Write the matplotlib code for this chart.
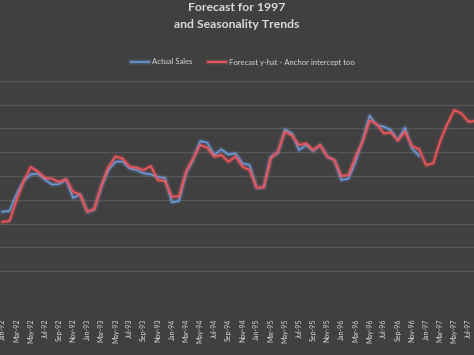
import matplotlib
matplotlib.use('Agg')
import matplotlib.pyplot as plt
import matplotlib.patheffects as pe

# monthly values (Jan-92 onwards)
actual_sales = [
    35.0, 35.3, 42.4, 47.9, 50.7, 51.0, 48.5, 46.4, 46.6, 48.5, 40.8, 42.2,
    35.0, 35.9, 45.4, 52.5, 56.0, 56.1, 53.2, 52.5, 51.1, 50.7, 49.6, 49.2,
    38.9, 39.5, 51.3, 56.7, 64.7, 64.0, 58.8, 61.2, 59.0, 59.5, 55.3, 54.6,
    45.0, 45.2, 58.0, 59.7, 69.5, 67.9, 60.9, 63.0, 60.5, 63.0, 58.1, 56.7,
    48.3, 48.9, 55.9, 65.1, 75.3, 71.4, 70.7, 69.3, 65.1, 70.3, 61.6, 58.5,
]
forecast = [
    30.7, 31.1, 39.9, 47.9, 53.8, 51.9, 49.2, 48.9, 47.5, 48.7, 43.4, 42.2,
    35.0, 36.1, 46.0, 53.8, 58.2, 57.4, 53.9, 53.5, 52.5, 54.2, 48.3, 47.9,
    41.3, 41.4, 51.8, 57.4, 63.0, 61.9, 58.1, 58.8, 56.0, 58.1, 53.9, 52.5,
    45.1, 45.3, 57.4, 60.1, 68.6, 67.0, 63.0, 63.7, 60.9, 63.0, 58.1, 56.7,
    50.0, 50.4, 58.1, 64.4, 73.3, 71.8, 67.9, 68.3, 64.9, 68.6, 62.6, 61.3,
    54.6, 55.3, 64.7, 71.8, 77.7, 76.3, 72.8, 73.1,
]
tick_labels = [
    'Jan-92', 'Mar-92', 'May-92', 'Jul-92', 'Sep-92', 'Nov-92',
    'Jan-93', 'Mar-93', 'May-93', 'Jul-93', 'Sep-93', 'Nov-93',
    'Jan-94', 'Mar-94', 'May-94', 'Jul-94', 'Sep-94', 'Nov-94',
    'Jan-95', 'Mar-95', 'May-95', 'Jul-95', 'Sep-95', 'Nov-95',
    'Jan-96', 'Mar-96', 'May-96', 'Jul-96', 'Sep-96', 'Nov-96',
    'Jan-97', 'Mar-97', 'May-97', 'Jul-97',
]

BG = '#404040'
TXT = '#d9d9d9'
BLUE = '#6a9ad9'
RED = '#e8555b'

plt.rcParams['font.family'] = ['Lato', 'DejaVu Sans']

fig = plt.figure(figsize=(4.74, 3.55), dpi=100, facecolor=BG)
ax = fig.add_axes([0, 1 - 295 / 355, 1, (295 - 80.8) / 355])
ax.set_facecolor(BG)


def glow(color):
    return [pe.Stroke(linewidth=4.5, foreground=color, alpha=0.1),
            pe.Stroke(linewidth=3, foreground=color, alpha=0.18),
            pe.Normal()]


ax.plot(range(len(actual_sales)), actual_sales, color=BLUE, lw=1.2,
        label='Actual Sales', path_effects=glow(BLUE), zorder=3)
ax.plot(range(len(forecast)), forecast, color=RED, lw=1.4,
        label='Forecast y-hat - Anchor intercept too',
        path_effects=glow(RED), zorder=4)

ax.set_ylim(0, 90)
ax.set_xlim(-2.5 / 7.06, (474 - 2.5) / 7.06)
for v in range(10, 100, 10):
    ax.axhline(v, color='#585858', lw=0.9, zorder=1)
ax.set_yticks([])
ax.set_xticks(range(0, 67, 2))
ax.set_xticklabels(tick_labels, rotation=90, fontsize=5, color=TXT)
ax.tick_params(axis='x', length=0, pad=17)
for s in ax.spines.values():
    s.set_visible(False)

fig.text(0.5, 1 - 7.5 / 355, 'Forecast for 1997', ha='center', va='center',
         fontsize=8.8, fontweight='bold', color=TXT)
fig.text(0.5, 1 - 24.5 / 355, 'and Seasonality Trends', ha='center',
         va='center', fontsize=8.8, fontweight='bold', color=TXT)

leg = fig.legend(loc='center', bbox_to_anchor=(0.512, 1 - 62 / 355), ncol=2,
                 frameon=False, fontsize=5.5, handlelength=2.4,
                 columnspacing=2.1, handletextpad=0.3)
for t in leg.get_texts():
    t.set_color(TXT)

fig.savefig('out.png', dpi=100, facecolor=BG)
